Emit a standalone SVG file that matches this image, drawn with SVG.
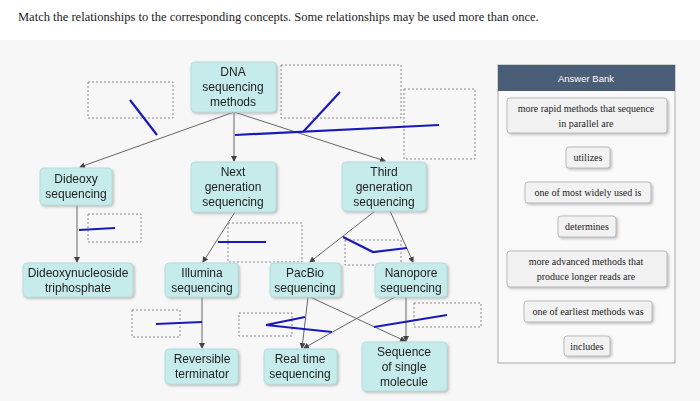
<svg xmlns="http://www.w3.org/2000/svg" width="700" height="401" viewBox="0 0 700 401">
<defs>
<marker id="ar" markerWidth="6" markerHeight="6" refX="5" refY="3" orient="auto" markerUnits="userSpaceOnUse"><path d="M0,0 L6,3 L0,6 z" fill="#444"/></marker>
<filter id="sh" x="-10%" y="-10%" width="130%" height="130%"><feDropShadow dx="1.5" dy="1.5" stdDeviation="1" flood-color="#999" flood-opacity="0.6"/></filter>
</defs>
<style>
.n rect{fill:#c5ebeb;stroke:#b5dede;stroke-width:1}
.n text{font-family:"Liberation Sans",Arial,sans-serif;font-size:12px;fill:#222;text-anchor:middle}
.c line{stroke:#666;stroke-width:1;marker-end:url(#ar)}
.d{fill:none;stroke:#888;stroke-width:1;stroke-dasharray:2,2}
.b{fill:none;stroke:#1a1ab8;stroke-width:2.2}
.ab rect{fill:#f2f2f2;stroke:#bbb;stroke-width:1}
.ab text{font-family:"Liberation Serif","Times New Roman",serif;font-size:10px;fill:#222;text-anchor:middle}
</style>
<rect width="700" height="401" fill="#fff"/>
<rect x="0" y="40" width="700" height="361" fill="#f7f7f7"/>
<text x="18" y="21" font-family="Liberation Serif,Times New Roman,serif" font-size="12.5" fill="#222">Match the relationships to the corresponding concepts. Some relationships may be used more than once.</text>

<g class="c" id="connectors">
<line x1="234" y1="112" x2="80" y2="167"/>
<line x1="234" y1="112" x2="234" y2="161"/>
<line x1="234" y1="112" x2="385" y2="161"/>
<line x1="77" y1="205" x2="77" y2="262"/>
<line x1="235" y1="212" x2="203" y2="262"/>
<line x1="375" y1="211" x2="310" y2="262"/>
<line x1="390" y1="211" x2="413" y2="262"/>
<line x1="202" y1="297" x2="202" y2="348"/>
<line x1="308" y1="297" x2="302" y2="348"/>
<line x1="310" y1="297" x2="405" y2="341"/>
<line x1="395" y1="297" x2="304" y2="348"/>
<line x1="406" y1="297" x2="406" y2="341"/>
</g>

<g id="blanks">
<rect class="d" x="88" y="82" width="85" height="36"/>
<rect class="d" x="281" y="65" width="120" height="53"/>
<rect class="d" x="404" y="89" width="71" height="70"/>
<rect class="d" x="88" y="214" width="53" height="28"/>
<rect class="d" x="228" y="223" width="74" height="39"/>
<rect class="d" x="345" y="240" width="56" height="25"/>
<rect class="d" x="132" y="310" width="48" height="27"/>
<rect class="d" x="239" y="313" width="53" height="23"/>
<rect class="d" x="414" y="303" width="67" height="24"/>
</g>

<g class="n" id="n-dna" filter="url(#sh)"><rect x="191" y="62" width="85" height="50" rx="4"/><text x="233" y="76">DNA</text><text x="233" y="91">sequencing</text><text x="233" y="106">methods</text></g>
<g class="n" id="n-dideoxy" filter="url(#sh)"><rect x="40" y="168" width="72" height="37" rx="4"/><text x="76" y="183">Dideoxy</text><text x="76" y="198">sequencing</text></g>
<g class="n" id="n-next" filter="url(#sh)"><rect x="191" y="162" width="85" height="50" rx="4"/><text x="233" y="176">Next</text><text x="233" y="191">generation</text><text x="233" y="206">sequencing</text></g>
<g class="n" id="n-third" filter="url(#sh)"><rect x="342" y="162" width="84" height="49" rx="4"/><text x="384" y="176">Third</text><text x="384" y="191">generation</text><text x="384" y="206">sequencing</text></g>
<g class="n" id="n-ddn" filter="url(#sh)"><rect x="23" y="263" width="110" height="34" rx="4"/><text x="78" y="277">Dideoxynucleoside</text><text x="78" y="292">triphosphate</text></g>
<g class="n" id="n-illumina" filter="url(#sh)"><rect x="165" y="263" width="73" height="34" rx="4"/><text x="202" y="277">Illumina</text><text x="202" y="292">sequencing</text></g>
<g class="n" id="n-pacbio" filter="url(#sh)"><rect x="270" y="263" width="71" height="34" rx="4"/><text x="305" y="277">PacBio</text><text x="305" y="292">sequencing</text></g>
<g class="n" id="n-nanopore" filter="url(#sh)"><rect x="375" y="263" width="72" height="34" rx="4"/><text x="411" y="277">Nanopore</text><text x="411" y="292">sequencing</text></g>
<g class="n" id="n-rev" filter="url(#sh)"><rect x="165" y="349" width="73" height="35" rx="4"/><text x="202" y="363">Reversible</text><text x="202" y="378">terminator</text></g>
<g class="n" id="n-real" filter="url(#sh)"><rect x="264" y="349" width="73" height="35" rx="4"/><text x="300" y="363">Real time</text><text x="300" y="378">sequencing</text></g>
<g class="n" id="n-single" filter="url(#sh)"><rect x="362" y="342" width="85" height="49" rx="4"/><text x="404" y="356">Sequence</text><text x="404" y="371">of single</text><text x="404" y="386">molecule</text></g>

<g id="marks">
<line class="b" x1="130" y1="100" x2="157" y2="135"/>
<line class="b" x1="340" y1="92" x2="303" y2="132"/>
<line class="b" x1="235" y1="135" x2="439" y2="125"/>
<line class="b" x1="79" y1="230" x2="115" y2="228"/>
<line class="b" x1="218" y1="242" x2="266" y2="242"/>
<polyline class="b" points="343,237 373,252 407,248"/>
<line class="b" x1="156" y1="324" x2="202" y2="322"/>
<polyline class="b" points="305,317 266,325 332,332"/>
<line class="b" x1="374" y1="327" x2="447" y2="315"/>
</g>

<g id="answer-bank">
<rect x="498" y="65" width="177" height="298" fill="#fafafa" stroke="#aaa"/>
<rect x="498" y="65" width="177" height="26" fill="#4b5e78"/>
<text x="586" y="82" font-family="Liberation Sans,Arial,sans-serif" font-size="9.5" fill="#fff" text-anchor="middle">Answer Bank</text>
<g class="ab">
<rect x="507" y="98" width="160" height="35" rx="3" filter="url(#sh)"/><text x="586" y="112">more rapid methods that sequence</text><text x="586" y="127">in parallel are</text>
<rect x="566" y="147" width="44" height="21" rx="3" filter="url(#sh)"/><text x="588" y="161">utilizes</text>
<rect x="525" y="182" width="126" height="21" rx="3" filter="url(#sh)"/><text x="588" y="196">one of most widely used is</text>
<rect x="558" y="216" width="58" height="21" rx="3" filter="url(#sh)"/><text x="587" y="230">determines</text>
<rect x="507" y="251" width="160" height="36" rx="3" filter="url(#sh)"/><text x="586" y="265">more advanced methods that</text><text x="586" y="280">produce longer reads are</text>
<rect x="524" y="301" width="128" height="21" rx="3" filter="url(#sh)"/><text x="588" y="315">one of earliest methods was</text>
<rect x="564" y="336" width="46" height="20" rx="3" filter="url(#sh)"/><text x="587" y="350">includes</text>
</g>
</g>
</svg>
